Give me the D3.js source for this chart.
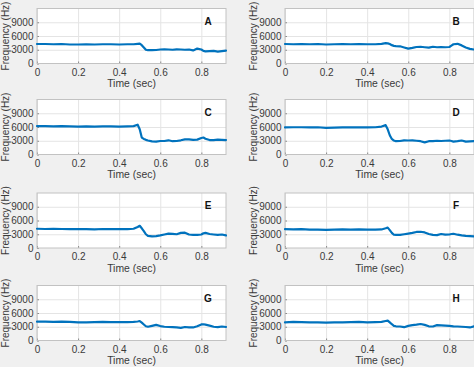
<!DOCTYPE html>
<html>
<head>
<meta charset="utf-8">
<script src="https://cdn.jsdelivr.net/npm/d3@7"></script>
<style>
  body { margin: 0; background: #f0f0f0; }
  svg { display: block; font-family: "Liberation Sans", Arial, sans-serif; }
  .tick text { fill: #3a3a3a; }
</style>
</head>
<body>
<script>
// shared time samples (sec)
const time = [0, 0.04, 0.08, 0.12, 0.16, 0.2, 0.24, 0.28, 0.32, 0.36, 0.4, 0.44, 0.47, 0.49, 0.5,
  0.51, 0.52, 0.53, 0.54, 0.56, 0.58, 0.6, 0.62, 0.64, 0.66, 0.68, 0.7, 0.72, 0.74, 0.76, 0.78,
  0.8, 0.81, 0.82, 0.84, 0.86, 0.88, 0.9, 0.92];

// frequency (Hz) per panel
const freqA = [4250, 4250, 4200, 4250, 4150, 4150, 4200, 4150, 4200, 4200, 4150, 4200, 4200, 4300, 4350,
  4000, 3500, 3000, 2900, 2900, 2950, 3050, 3100, 3050, 3000, 3100, 3050, 3000, 3050, 2850, 3250,
  3050, 2750, 2650, 2700, 2750, 2600, 2700, 2800];
const freqB = [4250, 4200, 4250, 4200, 4250, 4150, 4200, 4250, 4200, 4250, 4200, 4200, 4300, 4450, 4400,
  4250, 4000, 3850, 3800, 3750, 3500, 3250, 3400, 3600, 3650, 3550, 3450, 3650, 3550, 3600, 3550,
  3600, 3900, 4200, 4300, 3950, 3500, 3200, 3050];
const freqC = [6200, 6200, 6150, 6200, 6150, 6100, 6150, 6100, 6150, 6150, 6100, 6150, 6200, 6500, 5500,
  3700, 3400, 3200, 3050, 2850, 2800, 2950, 2950, 3100, 2900, 2950, 3100, 3300, 3300, 3200, 3250,
  3600, 3700, 3450, 3150, 3150, 3250, 3200, 3150];
const freqD = [5900, 5950, 5950, 5900, 5950, 5800, 5850, 5900, 5950, 5900, 5900, 5950, 6100, 6400, 5500,
  4200, 3400, 3050, 2900, 2950, 3100, 3050, 3100, 3000, 2900, 2650, 2900, 2900, 3000, 2950, 3000,
  3050, 2950, 2800, 2900, 3050, 2800, 2850, 2900];
const freqE = [4200, 4150, 4200, 4150, 4100, 4100, 4100, 4050, 4150, 4100, 4100, 4100, 4200, 4600, 4850,
  4300, 3700, 3000, 2650, 2550, 2600, 2750, 2950, 3150, 3100, 3000, 3300, 3350, 2950, 2850, 2850,
  2950, 3200, 3300, 3050, 2950, 2850, 2950, 2750];
const freqF = [4100, 4050, 4100, 4000, 4000, 3950, 4000, 4050, 4000, 4050, 4000, 4000, 4050, 4300, 4450,
  3900, 3300, 2900, 2850, 2850, 3000, 3150, 3300, 3500, 3550, 3400, 3050, 2850, 2800, 3050, 2900,
  2950, 3050, 3100, 2900, 2750, 2650, 2600, 2550];
const freqG = [4100, 4100, 4050, 4100, 4050, 3950, 3950, 4000, 4050, 4000, 4000, 4000, 4050, 4150, 4250,
  3900, 3500, 3100, 3000, 3200, 3400, 3150, 3000, 2950, 2900, 2850, 2750, 2950, 2850, 2850, 3100,
  3500, 3550, 3450, 3250, 3000, 2900, 3050, 2950];
const freqH = [3950, 4050, 4000, 3950, 3950, 3900, 3950, 3950, 4000, 4050, 3950, 4000, 4050, 4250, 4350,
  3950, 3550, 3200, 3100, 3050, 2900, 3200, 3350, 3450, 3600, 3400, 3100, 3050, 3350, 3300, 3250,
  3200, 3150, 3100, 3050, 3000, 2950, 2850, 3100];

const panelLabels = ['A', 'B', 'C', 'D', 'E', 'F', 'G', 'H'];
const panelSeries = [freqA, freqB, freqC, freqD, freqE, freqF, freqG, freqH];

const xTicks = [0, 0.2, 0.4, 0.6, 0.8];
const yTicks = [0, 3000, 6000, 9000];
const xDomain = [0, 0.92];
const yDomain = [0, 12000];

const width = 474;
const height = 367;

// panel geometry
const colLeft = [37, 285];
const rowTop = [8.5, 99.5, 193, 285.5];
const plotWidth = 189;
const plotHeight = 55;

const svg = d3.select('body').append('svg')
    .attr('width', width)
    .attr('height', height);

svg.append('rect')
    .attr('width', width)
    .attr('height', height)
    .attr('fill', '#f0f0f0');

const xScale = d3.scaleLinear().domain(xDomain).range([0, plotWidth]);
const yScale = d3.scaleLinear().domain(yDomain).range([plotHeight, 0]);

const line = d3.line()
    .x((d, i) => xScale(time[i]))
    .y(d => yScale(d));

panelSeries.forEach((series, i) => {
  const col = i % 2;
  const row = Math.floor(i / 2);

  const g = svg.append('g')
      .attr('transform', `translate(${colLeft[col]},${rowTop[row]})`);

  g.append('rect')
      .attr('width', plotWidth)
      .attr('height', plotHeight)
      .attr('fill', '#ffffff');

// grid
  g.append('g')
      .attr('transform', `translate(0,${plotHeight})`)
      .call(d3.axisBottom(xScale).tickValues(xTicks).tickSize(-plotHeight).tickFormat(''))
      .call(a => a.select('.domain').remove())
      .call(a => a.selectAll('line').attr('stroke', '#e4e4e4'));

  g.append('g')
      .call(d3.axisLeft(yScale).tickValues(yTicks.slice(1)).tickSize(-plotWidth).tickFormat(''))
      .call(a => a.select('.domain').remove())
      .call(a => a.selectAll('line').attr('stroke', '#e4e4e4'));

// axes
  g.append('g')
      .attr('transform', `translate(0,${plotHeight})`)
      .call(d3.axisBottom(xScale).tickValues(xTicks).tickSize(-2).tickPadding(5).tickFormat(d => d))
      .call(a => a.select('.domain').remove())
      .call(a => a.selectAll('line').attr('stroke', '#8a8a8a'))
      .call(a => a.selectAll('text').attr('font-size', 10).attr('font-family', null));

  g.append('g')
      .call(d3.axisLeft(yScale).tickValues(yTicks).tickSize(-2).tickPadding(3.5).tickFormat(d => d))
      .call(a => a.select('.domain').remove())
      .call(a => a.selectAll('line').attr('stroke', '#8a8a8a'))
      .call(a => a.selectAll('text').attr('font-size', 10).attr('font-family', null));

  g.append('rect')
      .attr('width', plotWidth)
      .attr('height', plotHeight)
      .attr('fill', 'none')
      .attr('stroke', '#c2c2c2')
      .attr('stroke-width', 1);

// data line
  g.append('path')
      .attr('d', line(series))
      .attr('fill', 'none')
      .attr('stroke', '#0072bd')
      .attr('stroke-width', 2.2)
      .attr('stroke-linejoin', 'round')
      .attr('stroke-linecap', 'round');

// labels
  g.append('text')
      .attr('x', 171)
      .attr('y', 16)
      .attr('text-anchor', 'middle')
      .attr('font-size', 10)
      .attr('font-weight', 'bold')
      .attr('fill', '#111')
      .text(panelLabels[i]);

  g.append('text')
      .attr('x', plotWidth / 2)
      .attr('y', plotHeight + 23.5)
      .attr('text-anchor', 'middle')
      .attr('font-size', 10.4)
      .attr('fill', '#3a3a3a')
      .text('Time (sec)');

  g.append('text')
      .attr('transform', `translate(-28.5,${plotHeight / 2}) rotate(-90)`)
      .attr('text-anchor', 'middle')
      .attr('font-size', 10)
      .attr('fill', '#3a3a3a')
      .text('Frequency (Hz)');
});
</script>
</body>
</html>
